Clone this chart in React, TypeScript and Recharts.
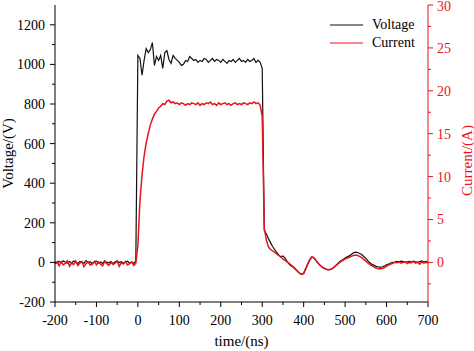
import { ComposedChart, Line, XAxis, YAxis } from 'recharts';

const FONT = '"Liberation Serif", "Times New Roman", serif';
const RED = '#e8141c';

// time in ns, 5 ns step
const timeNs = [
  -200, -195, -190, -185, -180, -175, -170, -165, -160, -155, -150, -145, -140, -135, -130, -125, -120, -115, -110, -105,
  -100, -95, -90, -85, -80, -75, -70, -65, -60, -55, -50, -45, -40, -35, -30, -25, -20, -15, -10, -5,
  0, 5, 10, 15, 20, 25, 30, 35, 40, 45, 50, 55, 60, 65, 70, 75, 80, 85, 90, 95,
  100, 105, 110, 115, 120, 125, 130, 135, 140, 145, 150, 155, 160, 165, 170, 175, 180, 185, 190, 195,
  200, 205, 210, 215, 220, 225, 230, 235, 240, 245, 250, 255, 260, 265, 270, 275, 280, 285, 290, 295,
  300, 305, 310, 315, 320, 325, 330, 335, 340, 345, 350, 355, 360, 365, 370, 375, 380, 385, 390, 395,
  400, 405, 410, 415, 420, 425, 430, 435, 440, 445, 450, 455, 460, 465, 470, 475, 480, 485, 490, 495,
  500, 505, 510, 515, 520, 525, 530, 535, 540, 545, 550, 555, 560, 565, 570, 575, 580, 585, 590, 595,
  600, 605, 610, 615, 620, 625, 630, 635, 640, 645, 650, 655, 660, 665, 670, 675, 680, 685, 690, 695,
  700,
];

// voltage in V
const voltage = [
  3, -4, 6, -2, 8, 1, -5, 4, -3, 7, 2, -6, 5, 0, -4, 9, -1, 3, -7, 4,
  6, -3, 2, -5, 8, 0, -2, 5, -6, 3, 7, -1, 4, -4, 2, 6, -3, 1, -5, 8,
  1045, 1030, 945, 1020, 1080, 1060, 1075, 1110, 995, 1040, 1020, 1045, 980, 1060, 1070, 1025, 1005, 1045, 1030, 1020,
  1010, 995, 1000, 1020, 1015, 1040, 1030, 1020, 1025, 1010, 1020, 1015, 1030, 1025, 1010, 1020, 1030, 1015, 1025, 1020,
  1010, 1025, 1015, 1005, 1020, 1015, 1025, 1010, 1020, 1030, 1015, 1020, 1010, 1025, 1015, 1020, 1030, 1010, 1020, 1010,
  980, 160, 145, 120, 100, 80, 65, 50, 38, 28, 32, 22, 5, -8, -18, -25, -35, -45, -55, -60,
  -55, -30, -5, 15, 28, 22, 10, -5, -15, -25, -30, -35, -38, -35, -30, -20, -10, 0, 8, 15,
  22, 28, 33, 40, 48, 52, 50, 45, 40, 30, 20, 8, -2, -10, -15, -20, -22, -25, -22, -18,
  -12, -8, -3, 0, 2, 5, 3, 6, 4, 1, 3, 5, 2, 6, 3, 0, 4, 7, 2, 5,
  3,
];

// current in A
const current = [
  -0.2, 0.1, -0.4, 0.05, -0.3, -0.1, 0.2, -0.45, -0.05, -0.25, 0.15, -0.35, -0.1, 0.1, -0.5, -0.15, 0.05, -0.3, -0.2, 0.1,
  -0.3, 0.05, -0.2, -0.4, 0.1, -0.15, -0.35, 0.0, -0.25, -0.1, 0.15, -0.45, -0.05, -0.2, 0.1, -0.3, -0.15, 0.05, -0.35, -0.1,
  2.0, 7.2, 10.2, 12.4, 13.9, 15.0, 16.0, 16.7, 17.3, 17.6, 18.0, 18.2, 18.5, 18.4, 18.8, 18.9, 18.6, 18.7, 18.5, 18.6,
  18.4, 18.6, 18.5, 18.3, 18.5, 18.4, 18.6, 18.5, 18.4, 18.6, 18.3, 18.5, 18.4, 18.6, 18.5, 18.7, 18.4, 18.5, 18.3, 18.6,
  18.4, 18.5, 18.6, 18.4, 18.5, 18.3, 18.5, 18.6, 18.4, 18.5, 18.4, 18.6, 18.5, 18.4, 18.6, 18.5, 18.7, 18.5, 18.6, 18.3,
  17.0, 4.0, 2.6, 1.8, 1.5, 1.35, 1.2, 1.0, 0.8, 0.6, 0.4, 0.25, 0.05, -0.1, -0.3, -0.5, -0.75, -1.0, -1.25, -1.4,
  -1.3, -0.8, -0.2, 0.3, 0.65, 0.5, 0.2, -0.1, -0.35, -0.55, -0.7, -0.8, -0.85, -0.8, -0.7, -0.5, -0.3, -0.1, 0.1, 0.25,
  0.4, 0.5, 0.6, 0.7, 0.8, 0.85, 0.8, 0.7, 0.55, 0.35, 0.15, -0.05, -0.25, -0.4, -0.55, -0.65, -0.75, -0.75, -0.7, -0.6,
  -0.45, -0.3, -0.2, -0.1, 0.0, -0.05, 0.05, -0.1, 0.0, 0.05, -0.15, 0.0, -0.05, 0.1, -0.1, 0.0, -0.2, 0.05, -0.1, 0.0,
  -0.05,
];

const xTicks = [-200, -150, -100, -50, 0, 50, 100, 150, 200, 250, 300, 350, 400, 450, 500, 550, 600, 650, 700];
const voltTicks = [-200, -100, 0, 100, 200, 300, 400, 500, 600, 700, 800, 900, 1000, 1100, 1200];
const currTicks = [-2.5, 0, 2.5, 5, 7.5, 10, 12.5, 15, 17.5, 20, 22.5, 25, 27.5, 30];

const data = timeNs.map((t, i) => ({ t, voltage: voltage[i], current: current[i] }));

function XTick({ x, y, payload }: any) {
  const major = payload.value % 100 === 0;
  return (
    <g>
      <line x1={x} y1={y} x2={x} y2={y + (major ? 5 : 3)} stroke="#000" />
      {major && (
        <text x={x} y={y + 23} textAnchor="middle" fontSize={14} fontFamily={FONT} fill="#000">
          {payload.value}
        </text>
      )}
    </g>
  );
}

function VoltTick({ x, y, payload }: any) {
  const major = payload.value % 200 === 0;
  return (
    <g>
      <line x1={x - (major ? 5 : 3)} y1={y} x2={x} y2={y} stroke="#000" />
      {major && (
        <text x={x - 10} y={y} dy="0.35em" textAnchor="end" fontSize={14} fontFamily={FONT} fill="#000">
          {payload.value}
        </text>
      )}
    </g>
  );
}

function CurrTick({ x, y, payload }: any) {
  const major = payload.value % 5 === 0;
  return (
    <g>
      <line x1={x} y1={y} x2={x + (major ? 5 : 3)} y2={y} stroke={RED} />
      {major && (
        <text x={x + 9} y={y + (payload.value === 30 ? 1 : 0)} dy="0.35em" textAnchor="start" fontSize={14} fontFamily={FONT} fill={RED}>
          {payload.value}
        </text>
      )}
    </g>
  );
}

function LegendBox() {
  const items = [
    { name: 'Voltage', color: '#111' },
    { name: 'Current', color: RED },
  ];
  return (
    <div style={{ position: 'absolute', left: 330, top: 16, fontFamily: FONT, fontSize: 14, lineHeight: '18px' }}>
      {items.map((it) => (
        <div key={it.name} style={{ display: 'flex', alignItems: 'center', height: 18 }}>
          <svg width={42} height={18}>
            <line x1={0} y1={9} x2={33} y2={9} stroke={it.color} strokeWidth={1.2} />
          </svg>
          <span>{it.name}</span>
        </div>
      ))}
    </div>
  );
}

export default function App() {
  return (
    <div style={{ position: 'absolute', left: 0, top: 0, width: 474, height: 351, background: '#fff', fontFamily: FONT }}>
      <ComposedChart width={474} height={351} data={data} margin={{ top: 5, right: 0, bottom: 0, left: 0 }}>
        <XAxis
          xAxisId="main"
          dataKey="t"
          type="number"
          domain={[-200, 700]}
          ticks={xTicks}
          interval={0}
          tickSize={0}
          tickMargin={0}
          tickLine={false}
          axisLine={{ stroke: '#000' }}
          tick={<XTick />}
          height={49}
          label={({ viewBox }: any) => (
            <text x={viewBox.x + viewBox.width / 2} y={346} textAnchor="middle" fontSize={15} fontFamily={FONT} fill="#000">
              time/(ns)
            </text>
          )}
        />
        <XAxis
          xAxisId="top"
          orientation="top"
          type="number"
          domain={[-200, 700]}
          height={0}
          tick={false}
          tickLine={false}
          axisLine={{ stroke: '#000' }}
        />
        <YAxis
          yAxisId="left"
          type="number"
          domain={[-200, 1300]}
          ticks={voltTicks}
          interval={0}
          tickSize={0}
          tickMargin={0}
          tickLine={false}
          axisLine={{ stroke: '#000' }}
          tick={<VoltTick />}
          width={55}
          allowDataOverflow
          label={({ viewBox }: any) => {
            const cy = viewBox.y + viewBox.height / 2;
            return (
              <text x={8} y={cy} transform={`rotate(-90 8 ${cy})`} textAnchor="middle" dominantBaseline="central" fontSize={15} fontFamily={FONT} fill="#000">
                Voltage/(V)
              </text>
            );
          }}
        />
        <YAxis
          yAxisId="right"
          orientation="right"
          type="number"
          domain={[(-200 * 30) / 1300, 30]}
          ticks={currTicks}
          interval={0}
          tickSize={0}
          tickMargin={0}
          tickLine={false}
          axisLine={{ stroke: RED }}
          tick={<CurrTick />}
          width={46}
          allowDataOverflow
          label={({ viewBox }: any) => {
            const cy = viewBox.y + viewBox.height / 2 + 7;
            return (
              <text x={467} y={cy} transform={`rotate(-90 467 ${cy})`} textAnchor="middle" dominantBaseline="central" fontSize={15} fontFamily={FONT} fill={RED}>
                Current/(A)
              </text>
            );
          }}
        />
        <Line
          xAxisId="main"
          yAxisId="left"
          dataKey="voltage"
          type="linear"
          dot={false}
          stroke="#111"
          strokeWidth={1.2}
          isAnimationActive={false}
        />
        <Line
          xAxisId="main"
          yAxisId="right"
          dataKey="current"
          type="linear"
          dot={false}
          stroke={RED}
          strokeWidth={1.5}
          isAnimationActive={false}
        />
      </ComposedChart>
      <LegendBox />
    </div>
  );
}
